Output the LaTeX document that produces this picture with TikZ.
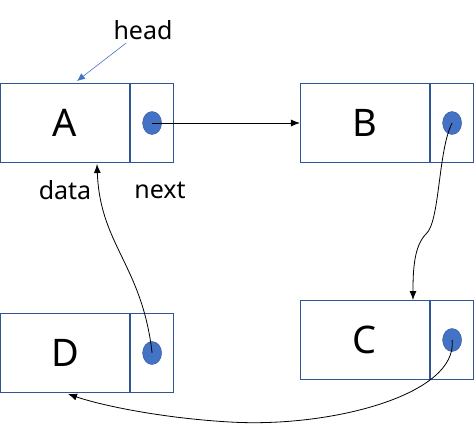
\documentclass[tikz,border=0pt]{standalone}
\usepackage{fontspec}
\setmainfont{Noto Sans}
\usetikzlibrary{positioning,arrows.meta,shapes.geometric}
\definecolor{boxblue}{HTML}{2F5597}
\definecolor{dotblue}{HTML}{4472C4}

\begin{document}
\begin{tikzpicture}[x=1pt, y=-1pt,
    datacell/.style={draw=boxblue, line width=1.1pt, minimum width=129pt,
      minimum height=79pt, inner sep=0pt, font=\fontsize{38}{38}\selectfont},
    nextcell/.style={draw=boxblue, line width=1.1pt, minimum width=43pt,
      minimum height=79pt, inner sep=0pt},
    ptrdot/.style={ellipse, draw=boxblue, fill=dotblue, minimum width=19pt,
      minimum height=23pt, inner sep=0pt},
    lbl/.style={font=\fontsize{25}{25}\selectfont},
    link/.style={line width=0.8pt, -{Latex[length=9pt,width=7pt]}}]
  \useasboundingbox (0,0) rectangle (474,426);
  % the four list cells
  \node[datacell] (a) at (65,123) {A};
  \node[nextcell, right=0pt of a] (an) {};
  \node[ptrdot] (ad) at (an.center) {};
  \node[datacell] (b) at (365,123) {B};
  \node[nextcell, right=0pt of b] (bn) {};
  \node[ptrdot] (bd) at (bn.center) {};
  \node[datacell] (c) at (365,340) {C};
  \node[nextcell, right=0pt of c] (cn) {};
  \node[ptrdot] (cd) at (cn.center) {};
  \node[datacell] (d) at (65,353) {D};
  \node[nextcell, right=0pt of d] (dn) {};
  \node[ptrdot] (dd) at (dn.center) {};
  % labels
  \node[lbl] (hd) at (143,30) {head};
  \node[lbl] (dt) at (65,190) {data};
  \node[lbl] (nx) at (160,190) {next};
  \coordinate (hdtip) at (77,81);
  \coordinate (ctop) at (413,300);
  \coordinate (abot) at (97,164);
  \coordinate (dbot) at (68,394);
  % pointers
  \draw[line width=0.6pt, dotblue, -{Latex[length=8pt,width=7pt]}] (hd) -- (hdtip);
  \draw[link] (ad.center) -- (b.west);
  \draw[link] (bd.center) .. controls (438,150) and (440,222) .. (426,234)
              .. controls (414,246) and (413,270) .. (ctop);
  \draw[link] (cd.center) .. controls (458,395) and (330,428) .. (230,422)
              .. controls (160,418) and (100,405) .. (dbot);
  \draw[link] (dd.center) .. controls (142,265) and (100,245) .. (abot);
\end{tikzpicture}
\end{document}
